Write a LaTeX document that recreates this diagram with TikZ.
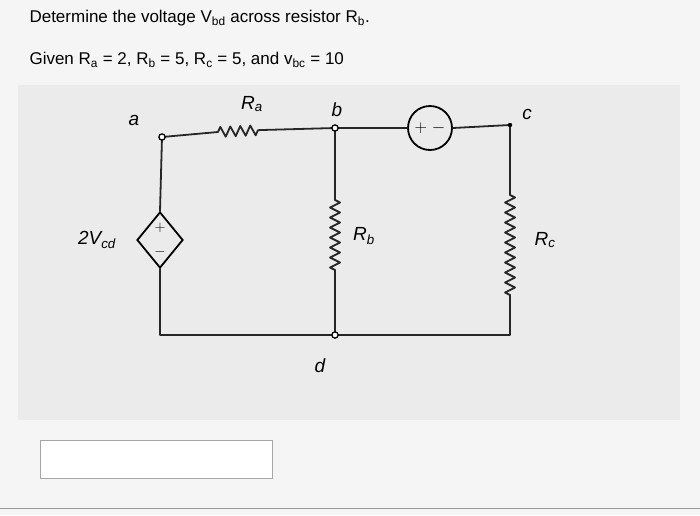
\documentclass[tikz,border=0pt]{standalone}
\usepackage{fontspec}
\setmainfont{Liberation Sans}
\usetikzlibrary{decorations.pathmorphing,shapes.geometric}
\begin{document}
\begin{tikzpicture}[x=1pt,y=-1pt,
  wire/.style={line width=1.8pt,color=black!85,line cap=round,line join=round},
  res/.style={wire,decorate,decoration={zigzag,segment length=10pt,amplitude=5pt}},
  hand/.style={font=\fontsize{19}{22}\selectfont\itshape},
  dotn/.style={circle,draw,line width=1.3pt,fill=white,inner sep=2.2pt}]
\useasboundingbox (0,0) rectangle (700,515);
\fill[black!4] (0,0) rectangle (700,515);
\fill[white!92!black] (18,85) rectangle (680,420);
\node[anchor=west,font=\fontsize{17}{20}\selectfont] (t1) at (26,18) {Determine the voltage V\textsubscript{bd} across resistor R\textsubscript{b}.};
\node[anchor=west,font=\fontsize{17}{20}\selectfont] (t2) at (26,60) {Given R\textsubscript{a} = 2, R\textsubscript{b} = 5, R\textsubscript{c} = 5, and v\textsubscript{bc} = 10};
% nodes
\coordinate (a) at (162,137);
\coordinate (b) at (335,128);
\coordinate (c) at (510,125);
\coordinate (d) at (335,335);
\coordinate (bl) at (160,335);
\coordinate (br) at (510,335);
\coordinate (ra1) at (218,132);
\coordinate (ra2) at (262,130);
\coordinate (rb1) at (335,200);
\coordinate (rb2) at (335,270);
\coordinate (rc1) at (510,195);
\coordinate (rc2) at (510,295);
\node[circle,draw,line width=1.8pt,minimum size=44pt,inner sep=0pt] (vs) at (430,128) {};
\node[font=\fontsize{17}{17}\selectfont] (vsl) at (430,128) {$+\;-$};
\node[diamond,draw,line width=1.8pt,minimum width=46pt,minimum height=56pt,inner sep=0pt,shape aspect=1] (ds) at (160,240) {};
\node[font=\fontsize{14}{14}\selectfont] (dp) at (160,228) {$+$};
\node[font=\fontsize{14}{14}\selectfont] (dm) at (160,252) {$-$};
% wires
\draw[wire] (a) -- (ra1);
\draw[res] (ra1) -- (ra2);
\draw[wire] (ra2) -- (b) -- (vs.west);
\draw[wire] (vs.east) -- (c);
\draw[wire] (a) -- (ds.north);
\draw[wire] (ds.south) -- (bl) -- (d) -- (br) -- (rc2);
\draw[res] (rc2) -- (rc1);
\draw[wire] (rc1) -- (c);
\draw[wire] (b) -- (rb1);
\draw[res] (rb1) -- (rb2);
\draw[wire] (rb2) -- (d);
\node[dotn] (na) at (a) {};
\node[dotn] (nb) at (b) {};
\node[dotn] (nd) at (d) {};
\fill (c) circle (2.2pt);
% labels
\node[hand] (la) at (134,120) {a};
\node[hand] (lra) at (252,104) {R\textsubscript{a}};
\node[hand] (lb) at (337,110) {b};
\node[hand] (lc) at (527,114) {c};
\node[hand] (lrb) at (364,236) {R\textsubscript{b}};
\node[hand] (lrc) at (545,240) {R\textsubscript{c}};
\node[hand] (lv) at (97,240) {2V\textsubscript{cd}};
\node[hand] (ld) at (320,366) {d};
\node[draw=black!35,fill=white,minimum width=232pt,minimum height=38pt,inner sep=0pt] (box) at (156,459) {};
\draw[black!40,line width=1pt] (0,508) -- (700,508);
\end{tikzpicture}
\end{document}
